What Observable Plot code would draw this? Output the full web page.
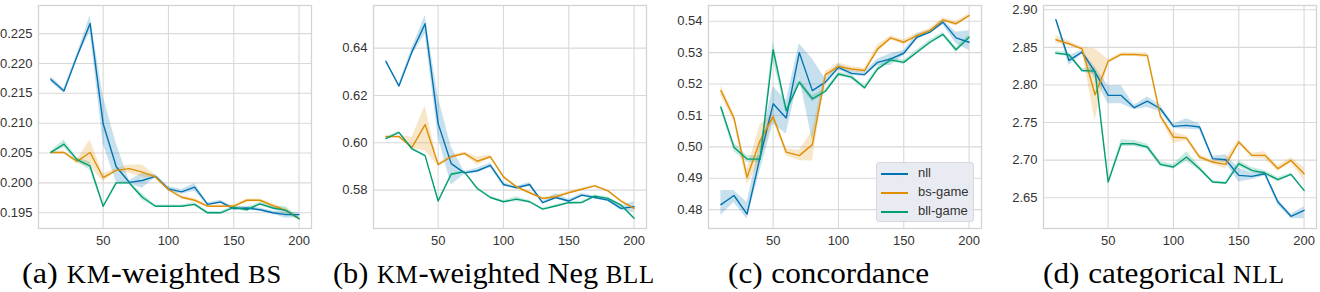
<!DOCTYPE html>
<html>
<head>
<meta charset="utf-8">
<script src="https://cdn.jsdelivr.net/npm/d3@7"></script>
<script src="https://cdn.jsdelivr.net/npm/@observablehq/plot@0.6"></script>
<style>
  html, body { margin: 0; padding: 0; background: #fff; }
  #wrap { position: relative; width: 1320px; height: 292px; overflow: hidden; background: #fff; }
  .panel { position: absolute; top: 0; }
  .cap { position: absolute; top: 258px; font-family: "Liberation Serif", "Times New Roman", serif; font-size: 30px; line-height: 30px; color: #000; white-space: nowrap; transform-origin: 0 50%; }
  .cap .sc { font-size: 0.82em; letter-spacing: 0.03em; }
  .cap .lab { margin-right: 0.28em; }
  #legend { position: absolute; left: 876px; top: 162px; width: 98px; height: 60px; box-sizing: border-box;
            background: rgba(232,234,241,0.95); border: 1px solid #d6d8de; border-radius: 3px;
            font-family: "Liberation Sans", Arial, sans-serif; font-size: 13px; color: #333; }
  #legend .row { position: absolute; left: 0; height: 16px; width: 96px; }
  #legend .sw { position: absolute; left: 4px; top: 8px; width: 27px; height: 1.5px; }
  #legend .tx { position: absolute; left: 41px; top: 0; line-height: 16px; white-space: nowrap; }
</style>
</head>
<body>
<div id="wrap"></div>
<script>
const xs = [10,20,30,40,50,60,70,80,90,100,110,120,130,140,150,160,170,180,190,200];
const seriesNames = ["nll", "bs-game", "bll-game"];
const seriesColors = ["#0173b2", "#de8f05", "#029e73"];
const xTicks = [50, 100, 150, 200];

// (a) KM-weighted BS
const aNll     = [0.2173,0.2154,0.2212,0.2267,0.2099,0.2027,0.2001,0.2004,0.2011,0.1990,0.1985,0.1993,0.1964,0.1968,0.1957,0.1958,0.1955,0.1950,0.1947,0.1947];
const aNllLo   = [0.2168,0.2150,0.2207,0.2253,0.2065,0.2002,0.1998,0.1991,0.2009,0.1986,0.1981,0.1986,0.1962,0.1966,0.1954,0.1955,0.1953,0.1947,0.1941,0.1942];
const aNllHi   = [0.2178,0.2158,0.2216,0.2280,0.2145,0.2066,0.2004,0.2016,0.2014,0.1994,0.1989,0.1999,0.1967,0.1971,0.1960,0.1961,0.1958,0.1953,0.1951,0.1951];
const aBs      = [0.2051,0.2051,0.2036,0.2051,0.2009,0.2021,0.2024,0.2018,0.2010,0.1989,0.1976,0.1971,0.1961,0.1961,0.1961,0.1971,0.1971,0.1962,0.1954,0.1940];
const aBsLo    = [0.2049,0.2049,0.2032,0.2028,0.2002,0.2019,0.2016,0.2010,0.2007,0.1986,0.1973,0.1968,0.1959,0.1959,0.1959,0.1968,0.1968,0.1959,0.1951,0.1938];
const aBsHi    = [0.2053,0.2053,0.2039,0.2072,0.2015,0.2024,0.2030,0.2030,0.2013,0.1992,0.1979,0.1974,0.1963,0.1963,0.1963,0.1973,0.1973,0.1965,0.1957,0.1942];
const aBll     = [0.2051,0.2065,0.2039,0.2028,0.1961,0.2000,0.2000,0.1976,0.1961,0.1961,0.1961,0.1964,0.1950,0.1950,0.1959,0.1955,0.1965,0.1958,0.1954,0.1940];
const aBllLo   = [0.2049,0.2059,0.2036,0.2021,0.1959,0.1998,0.1998,0.1971,0.1959,0.1959,0.1959,0.1961,0.1948,0.1948,0.1956,0.1952,0.1962,0.1955,0.1948,0.1938];
const aBllHi   = [0.2053,0.2072,0.2042,0.2035,0.1963,0.2002,0.2002,0.1982,0.1963,0.1963,0.1963,0.1967,0.1952,0.1952,0.1962,0.1958,0.1968,0.1961,0.1960,0.1942];
const aTicks   = [0.195,0.200,0.205,0.210,0.215,0.220,0.225];

// (b) KM-weighted Neg BLL
const bNll     = [0.6344,0.6240,0.6385,0.6503,0.6081,0.5912,0.5873,0.5882,0.5905,0.5824,0.5810,0.5824,0.5747,0.5769,0.5754,0.5779,0.5769,0.5758,0.5723,0.5730];
const bNllLo   = [0.6338,0.6232,0.6370,0.6460,0.6025,0.5821,0.5866,0.5872,0.5895,0.5815,0.5805,0.5815,0.5742,0.5762,0.5748,0.5772,0.5764,0.5752,0.5714,0.5705];
const bNllHi   = [0.6350,0.6248,0.6400,0.6538,0.6193,0.5983,0.5880,0.5892,0.5915,0.5833,0.5815,0.5833,0.5752,0.5786,0.5760,0.5786,0.5774,0.5764,0.5732,0.5752];
const bBs      = [0.6026,0.6026,0.5981,0.6077,0.5908,0.5941,0.5955,0.5922,0.5941,0.5856,0.5814,0.5789,0.5765,0.5772,0.5789,0.5804,0.5818,0.5797,0.5754,0.5723];
const bBsLo    = [0.6020,0.6020,0.5975,0.5966,0.5902,0.5935,0.5949,0.5905,0.5935,0.5850,0.5808,0.5783,0.5760,0.5767,0.5784,0.5799,0.5813,0.5792,0.5749,0.5718];
const bBsHi    = [0.6032,0.6032,0.6023,0.6155,0.5914,0.5947,0.5961,0.5940,0.5947,0.5862,0.5820,0.5795,0.5770,0.5777,0.5794,0.5809,0.5823,0.5802,0.5759,0.5728];
const bBll     = [0.6018,0.6044,0.5974,0.5946,0.5754,0.5867,0.5877,0.5807,0.5769,0.5751,0.5762,0.5751,0.5720,0.5733,0.5747,0.5748,0.5775,0.5765,0.5737,0.5681];
const bBllLo   = [0.6013,0.6039,0.5969,0.5941,0.5749,0.5862,0.5872,0.5802,0.5764,0.5746,0.5751,0.5746,0.5715,0.5728,0.5742,0.5743,0.5770,0.5760,0.5732,0.5676];
const bBllHi   = [0.6023,0.6049,0.5979,0.5951,0.5759,0.5872,0.5882,0.5812,0.5774,0.5756,0.5772,0.5756,0.5725,0.5738,0.5752,0.5753,0.5780,0.5770,0.5742,0.5686];
const bTicks   = [0.58,0.60,0.62,0.64];

// (c) concordance
const cNll     = [0.4816,0.4845,0.4786,0.4967,0.5137,0.5092,0.5300,0.5179,0.5206,0.5253,0.5234,0.5230,0.5269,0.5280,0.5298,0.5349,0.5365,0.5397,0.5347,0.5333];
const cNllLo   = [0.4781,0.4823,0.4770,0.4924,0.5073,0.5041,0.5222,0.5020,0.5195,0.5243,0.5227,0.5224,0.5259,0.5259,0.5291,0.5341,0.5360,0.5389,0.5328,0.5307];
const cNllHi   = [0.4861,0.4861,0.4823,0.5009,0.5192,0.5147,0.5328,0.5280,0.5216,0.5264,0.5243,0.5238,0.5280,0.5296,0.5307,0.5360,0.5372,0.5404,0.5365,0.5370];
const cBs      = [0.5179,0.5092,0.4903,0.5020,0.5096,0.4983,0.4972,0.5007,0.5230,0.5256,0.5248,0.5243,0.5312,0.5347,0.5333,0.5354,0.5370,0.5404,0.5392,0.5418];
const cBsLo    = [0.5163,0.5080,0.4880,0.4950,0.5085,0.4972,0.4956,0.4955,0.5220,0.5245,0.5240,0.5236,0.5300,0.5340,0.5325,0.5347,0.5363,0.5397,0.5385,0.5412];
const cBsHi    = [0.5195,0.5105,0.4927,0.5070,0.5107,0.4994,0.4988,0.5050,0.5240,0.5267,0.5256,0.5250,0.5324,0.5354,0.5341,0.5361,0.5377,0.5411,0.5399,0.5424];
const cBll     = [0.5126,0.4999,0.4961,0.4961,0.5309,0.5115,0.5206,0.5153,0.5177,0.5232,0.5222,0.5188,0.5248,0.5277,0.5269,0.5301,0.5333,0.5358,0.5309,0.5349];
const cBllLo   = [0.5115,0.4985,0.4950,0.4950,0.5275,0.5105,0.5196,0.5143,0.5170,0.5225,0.5215,0.5181,0.5241,0.5270,0.5262,0.5294,0.5326,0.5351,0.5300,0.5342];
const cBllHi   = [0.5137,0.5013,0.4972,0.4972,0.5339,0.5125,0.5216,0.5163,0.5184,0.5239,0.5229,0.5195,0.5255,0.5284,0.5276,0.5308,0.5340,0.5365,0.5318,0.5356];
const cTicks   = [0.48,0.49,0.50,0.51,0.52,0.53,0.54];

// (d) categorical NLL
const dNll     = [2.8867,2.8326,2.8437,2.8171,2.7861,2.7861,2.7697,2.7785,2.7683,2.7449,2.7462,2.7440,2.7019,2.7005,2.6797,2.6784,2.6819,2.6442,2.6252,2.6332];
const dNllLo   = [2.8850,2.8260,2.8410,2.8080,2.7750,2.7750,2.7670,2.7700,2.7640,2.7420,2.7410,2.7400,2.6990,2.6960,2.6710,2.6740,2.6790,2.6400,2.6220,2.6220];
const dNllHi   = [2.8885,2.8390,2.8460,2.8240,2.7990,2.7990,2.7730,2.7840,2.7730,2.7480,2.7550,2.7480,2.7050,2.7070,2.6890,2.6830,2.6850,2.6480,2.6280,2.6380];
const dBs      = [2.8601,2.8548,2.8481,2.7870,2.8313,2.8406,2.8406,2.8393,2.7586,2.7307,2.7293,2.7041,2.6974,2.6943,2.7240,2.7063,2.7063,2.6886,2.6996,2.6819];
const dBsLo    = [2.8555,2.8520,2.8460,2.7520,2.8290,2.8380,2.8380,2.8360,2.7560,2.7220,2.7260,2.7010,2.6940,2.6880,2.7210,2.7030,2.7010,2.6850,2.6960,2.6730];
const dBsHi    = [2.8655,2.8580,2.8500,2.8480,2.8340,2.8430,2.8430,2.8430,2.7610,2.7370,2.7320,2.7070,2.7000,2.7020,2.7270,2.7090,2.7110,2.6920,2.7030,2.6900];
const dBll     = [2.8424,2.8402,2.8193,2.8184,2.6708,2.7218,2.7218,2.7174,2.6943,2.6908,2.7041,2.6886,2.6708,2.6695,2.6952,2.6863,2.6828,2.6739,2.6810,2.6597];
const dBllLo   = [2.8400,2.8380,2.8170,2.8140,2.6690,2.7180,2.7180,2.7140,2.6910,2.6880,2.6980,2.6860,2.6690,2.6680,2.6910,2.6830,2.6800,2.6710,2.6790,2.6580];
const dBllHi   = [2.8450,2.8430,2.8220,2.8230,2.6730,2.7270,2.7260,2.7210,2.6980,2.6940,2.7110,2.6920,2.6730,2.6710,2.6990,2.6900,2.6860,2.6770,2.6830,2.6610];
const dTicks   = [2.65,2.70,2.75,2.80,2.85,2.90];

function rows(triples) {
  const out = [];
  triples.forEach(([m, lo, hi], s) => {
    xs.forEach((x, i) => out.push({x, series: seriesNames[s], mean: m[i], lo: lo[i], hi: hi[i]}));
  });
  return out;
}

const panels = [
  {left: 0,    data: rows([[aNll,aNllLo,aNllHi],[aBs,aBsLo,aBsHi],[aBll,aBllLo,aBllHi]]), yDomain: [0.19237, 0.2297], ticks: aTicks, fmt: d3.format(".3f")},
  {left: 335,  data: rows([[bNll,bNllLo,bNllHi],[bBs,bBsLo,bBsHi],[bBll,bBllLo,bBllHi]]), yDomain: [0.5638, 0.658], ticks: bTicks, fmt: d3.format(".2f")},
  {left: 670,  data: rows([[cNll,cNllLo,cNllHi],[cBs,cBsLo,cBsHi],[cBll,cBllLo,cBllHi]]), yDomain: [0.474, 0.545], ticks: cTicks, fmt: d3.format(".2f")},
  {left: 1005, data: rows([[dNll,dNllLo,dNllHi],[dBs,dBsLo,dBsHi],[dBll,dBllLo,dBllHi]]), yDomain: [2.609, 2.9057], ticks: dTicks, fmt: d3.format(".2f")}
];

const wrap = document.getElementById("wrap");
const gridColor = "#d9d9d9";

panels.forEach(p => {
  const chart = Plot.plot({
    width: 315,
    height: 250,
    marginLeft: 38,
    marginRight: 4,
    marginTop: 5,
    marginBottom: 22,
    style: {fontFamily: "'Liberation Sans', Arial, sans-serif", fontSize: "13px", color: "#333", background: "#fff"},
    x: {domain: [0.5, 209.5]},
    y: {domain: p.yDomain},
    color: {domain: seriesNames, range: seriesColors},
    marks: [
      Plot.gridX(xTicks, {stroke: gridColor, strokeOpacity: 1, strokeWidth: 1.1}),
      Plot.gridY(p.ticks, {stroke: gridColor, strokeOpacity: 1, strokeWidth: 1.1}),
      Plot.areaY(p.data, {x: "x", y1: "lo", y2: "hi", z: "series", fill: "series", fillOpacity: 0.22}),
      Plot.lineY(p.data, {x: "x", y: "mean", z: "series", stroke: "series", strokeWidth: 1.4}),
      Plot.frame({stroke: "#d3d3d3", strokeWidth: 1.3}),
      Plot.axisX(xTicks, {tickSize: 0, tickPadding: 7, label: null, fill: "#333"}),
      Plot.axisY(p.ticks, {tickSize: 0, tickPadding: 6, label: null, tickFormat: p.fmt, fill: "#333"})
    ]
  });
  const div = document.createElement("div");
  div.className = "panel";
  div.style.left = p.left + "px";
  div.appendChild(chart);
  wrap.appendChild(div);
});

// captions: left edge and target width in pixels
const caps = [
  {left: 22,   width: 260, html: '<span class="lab">(a)</span><span class="sc">KM</span>-weighted <span class="sc">BS</span>'},
  {left: 333,  width: 322, html: '<span class="lab">(b)</span><span class="sc">KM</span>-weighted Neg <span class="sc">BLL</span>'},
  {left: 728,  width: 201, html: '<span class="lab">(c)</span>concordance'},
  {left: 1043, width: 242, html: '<span class="lab">(d)</span>categorical <span class="sc">NLL</span>'}
];
caps.forEach(c => {
  const d = document.createElement("div");
  d.className = "cap";
  d.style.left = c.left + "px";
  d.innerHTML = c.html;
  wrap.appendChild(d);
  const w = d.getBoundingClientRect().width;
  if (w > 0) d.style.transform = "scaleX(" + (c.width / w).toFixed(3) + ")";
});

// legend (panel c)
const lg = document.createElement("div");
lg.id = "legend";
seriesNames.forEach((name, i) => {
  const r = document.createElement("div");
  r.className = "row";
  r.style.top = (2 + i * 19) + "px";
  const sw = document.createElement("div");
  sw.className = "sw";
  sw.style.background = seriesColors[i];
  const tx = document.createElement("div");
  tx.className = "tx";
  tx.textContent = name;
  r.appendChild(sw); r.appendChild(tx);
  lg.appendChild(r);
});
wrap.appendChild(lg);
</script>
</body>
</html>
